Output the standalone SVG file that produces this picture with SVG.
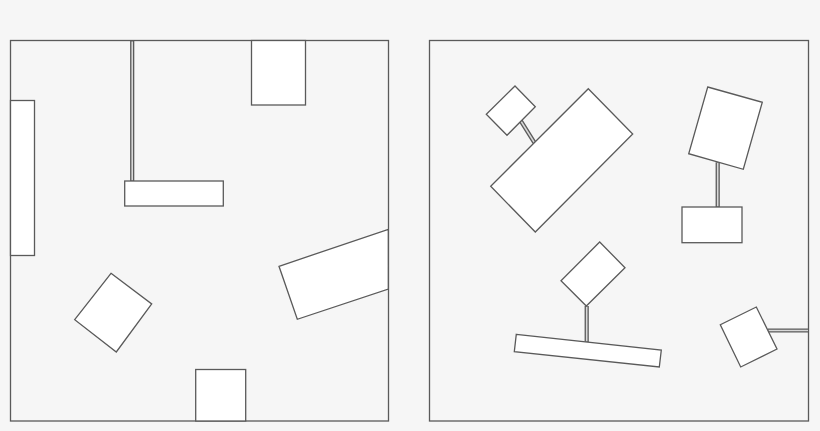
<svg xmlns="http://www.w3.org/2000/svg" width="820" height="431" viewBox="0 0 820 431">
<style>
.bg{fill:#f6f6f6}
.frame{fill:#f6f6f6;stroke:#5a5a5a;stroke-width:1.3}
.n{fill:#ffffff;stroke:#5a5a5a;stroke-width:1.3;stroke-linejoin:miter}
.co{stroke:#5a5a5a;stroke-width:4.2;fill:none}
.ci{stroke:#d8d8d8;stroke-width:1.6;fill:none}
</style>
<rect class="bg" x="0" y="0" width="820" height="431"/>
<g id="panel-left">
<rect class="frame" x="10.5" y="40.5" width="378" height="380.5"/>
</g>
<g id="panel-right">
<rect class="frame" x="429.5" y="40.5" width="379" height="380.5"/>
</g>
<g id="connectors">
<line class="co" x1="132.2" y1="40.5" x2="132.2" y2="181"/>
<line class="ci" x1="132.2" y1="41.5" x2="132.2" y2="180.5"/>
<line class="co" x1="520.8" y1="120.8" x2="534.4" y2="142.6"/>
<line class="ci" x1="520.8" y1="120.8" x2="534.4" y2="142.6"/>
<line class="co" x1="717.7" y1="162.3" x2="717.7" y2="207"/>
<line class="ci" x1="717.7" y1="162.8" x2="717.7" y2="206.5"/>
<line class="co" x1="586.7" y1="306" x2="586.7" y2="342"/>
<line class="ci" x1="586.7" y1="306.5" x2="586.7" y2="341.5"/>
<line class="co" x1="767.8" y1="330.5" x2="808.5" y2="330.5"/>
<line class="ci" x1="768.3" y1="330.5" x2="808" y2="330.5"/>
</g>
<g id="L1"><rect class="n" x="10.5" y="100.5" width="24" height="155"/></g>
<g id="L2"><rect class="n" x="251.5" y="40.5" width="54" height="64.5"/></g>
<g id="L3"><rect class="n" x="124.7" y="181" width="98.6" height="25"/></g>
<g id="L4"><polygon class="n" points="279,266.3 388.3,229.3 388.3,289 297.3,319.3"/></g>
<g id="L5"><polygon class="n" points="111,273.3 151.7,304 116.3,352 74.7,319.7"/></g>
<g id="L6"><rect class="n" x="195.7" y="369.5" width="50" height="51.5"/></g>
<g id="R1"><polygon class="n" points="515,86 535.3,106.7 507,135.3 486.3,114.3"/></g>
<g id="R2"><polygon class="n" points="588.3,88.7 632.7,134 535.3,232 490.7,186.3"/></g>
<g id="R3"><polygon class="n" points="707.7,87 762.3,102.3 743.3,169.3 688.7,153.7"/></g>
<g id="R4"><rect class="n" x="682" y="207" width="60" height="35.7"/></g>
<g id="R5"><polygon class="n" points="599.7,242 625,267.7 586.3,306 561,280.7"/></g>
<g id="R6"><polygon class="n" points="516.3,334.3 661.3,350 659.3,367 514.3,351.7"/></g>
<g id="R7"><polygon class="n" points="756.3,307 777,349 740.7,367 720.3,324.7"/></g>
</svg>
